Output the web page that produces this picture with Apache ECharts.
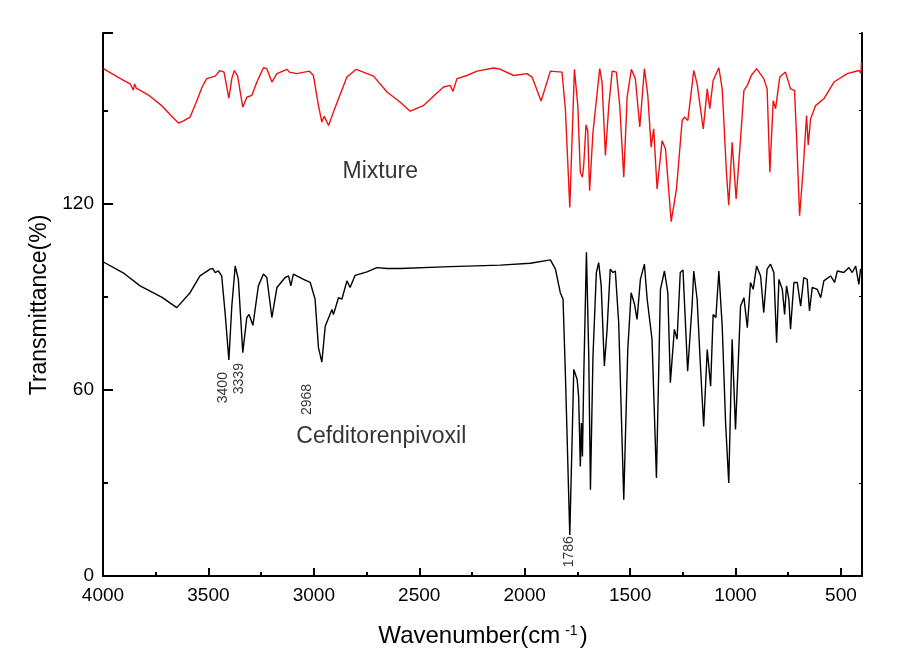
<!DOCTYPE html>
<html><head><meta charset="utf-8">
<script src="https://cdn.jsdelivr.net/npm/echarts@6/dist/echarts.min.js"></script>
<style>html,body{margin:0;padding:0;background:#fff}#c{width:901px;height:663px}</style>
</head><body><div id="c"></div>
<script>
const xTicks = [4000,3500,3000,2500,2000,1500,1000,500];
const yTicks = [0,60,120];
const mixture = [[3998,163.5],[3930,160.8],[3870,158.5],[3856,156.6],[3850,158.6],[3842,157.2],[3780,154.8],[3720,151.5],[3680,148.6],[3642,146.0],[3620,146.6],[3587,147.9],[3560,152.3],[3530,157.6],[3508,160.3],[3468,161.1],[3445,162.9],[3426,162.4],[3403,154.0],[3389,160.3],[3377,162.9],[3362,161.3],[3337,151.1],[3318,154.3],[3294,154.9],[3270,159.2],[3239,163.8],[3223,163.5],[3199,159.2],[3175,161.9],[3128,163.3],[3116,162.4],[3081,161.9],[3021,162.7],[3002,161.3],[2978,151.6],[2962,146.3],[2951,148.2],[2930,145.2],[2907,149.5],[2883,153.8],[2843,160.8],[2799,163.3],[2717,161.1],[2653,156.0],[2590,152.7],[2543,149.8],[2480,151.6],[2385,157.6],[2353,158.1],[2340,156.2],[2321,160.3],[2274,161.3],[2226,162.7],[2147,163.7],[2115,163.3],[2052,161.3],[1989,161.9],[1965,160.8],[1922,153.1],[1878,162.7],[1823,162.4],[1807,150.6],[1786,118.8],[1764,163.3],[1748,151.6],[1736,130.1],[1726,128.5],[1720,132.3],[1709,145.4],[1701,143.6],[1692,124.2],[1676,143.0],[1644,163.5],[1633,159.2],[1617,135.5],[1601,151.6],[1585,162.7],[1565,162.4],[1549,151.6],[1530,128.5],[1514,154.3],[1494,163.3],[1475,160.3],[1454,144.7],[1432,163.5],[1416,154.9],[1400,138.2],[1388,144.1],[1372,124.7],[1348,140.3],[1332,137.6],[1305,114.2],[1280,124.7],[1253,146.8],[1242,147.9],[1226,146.8],[1198,162.9],[1182,158.6],[1153,144.1],[1134,157.0],[1122,150.6],[1106,159.7],[1079,163.8],[1063,157.0],[1043,130.1],[1032,119.5],[1016,139.8],[997,121.5],[976,140.9],[960,156.5],[944,158.1],[925,161.3],[900,163.5],[866,160.3],[850,157.0],[837,130.1],[821,153.2],[810,150.6],[790,160.8],[763,162.4],[739,157.0],[720,156.5],[710,140.9],[696,116.1],[680,130.1],[663,148.4],[655,138.9],[644,147.3],[620,151.6],[581,153.8],[533,159.2],[470,161.9],[415,162.9],[405,162.0],[403,165.4],[400,165.0]];
const cefditoren = [[3998,101.2],[3900,97.5],[3824,93.5],[3720,89.8],[3650,86.5],[3587,91.3],[3540,96.7],[3492,98.9],[3479,99.1],[3468,97.8],[3453,98.3],[3437,96.7],[3421,84.9],[3403,69.6],[3389,87.0],[3373,99.9],[3358,95.6],[3337,72.0],[3318,83.3],[3307,84.3],[3289,80.8],[3263,93.5],[3239,97.3],[3223,96.2],[3199,83.3],[3175,93.0],[3136,96.2],[3120,96.7],[3109,93.5],[3097,97.3],[3049,95.6],[3017,94.6],[2994,89.2],[2978,73.6],[2962,68.9],[2946,80.5],[2914,85.9],[2907,84.3],[2883,89.7],[2867,89.2],[2843,95.1],[2828,93.0],[2804,96.9],[2748,98.0],[2701,99.4],[2653,99.1],[2590,99.1],[2353,99.7],[2115,100.2],[1973,100.8],[1878,101.9],[1854,98.9],[1831,91.3],[1818,89.2],[1807,65.5],[1786,13.2],[1775,43.9],[1767,66.6],[1751,63.3],[1744,57.9],[1736,35.3],[1731,49.3],[1726,38.5],[1720,63.3],[1707,104.3],[1696,70.9],[1688,27.8],[1676,70.9],[1660,97.8],[1649,101.0],[1637,93.5],[1622,67.7],[1609,79.5],[1594,98.9],[1581,97.8],[1570,98.3],[1554,81.6],[1530,24.6],[1511,73.0],[1495,91.3],[1479,87.6],[1467,82.7],[1451,95.6],[1432,100.5],[1419,89.2],[1396,76.3],[1375,31.6],[1356,92.4],[1337,98.3],[1321,91.3],[1309,62.3],[1290,79.5],[1277,76.3],[1262,97.8],[1249,98.6],[1227,66.0],[1206,87.0],[1198,98.3],[1182,89.2],[1167,68.7],[1151,48.2],[1134,73.0],[1118,61.2],[1106,84.3],[1093,83.3],[1079,98.3],[1063,80.5],[1047,49.3],[1032,30.0],[1016,76.3],[1000,47.2],[976,87.0],[960,89.7],[944,80.0],[929,94.6],[916,92.4],[900,99.9],[881,96.7],[866,84.9],[850,98.9],[834,100.5],[818,97.8],[805,75.2],[794,95.6],[778,92.4],[767,84.3],[758,93.5],[747,89.2],[739,79.5],[723,94.6],[707,94.6],[691,87.0],[676,96.2],[660,95.6],[649,85.4],[636,93.0],[612,92.4],[596,89.7],[581,95.1],[549,96.7],[530,94.6],[517,98.3],[486,97.8],[462,99.4],[446,97.8],[430,99.9],[415,94.0],[407,98.9],[400,97.8]];
const peakLabels = [[3430,60.7,'3400'],[3353,63.6,'3339'],[3033,56.9,'2968'],[1788,7.8,'1786']];
const curveLabels = [[2685,130.2,'Mixture'],[2680,44.9,'Cefditorenpivoxil']];

const FONT = '"Liberation Sans", Arial, Helvetica, sans-serif';
const chart = echarts.init(document.getElementById('c'), null, {renderer:'canvas'});
const blackLine = {show:true, lineStyle:{color:'#000', width:2}};
const noSplit = {show:false};
const xBase = {type:'value', inverse:true, min:400, max:4000, splitLine:noSplit};
const yBase = {type:'value', min:0, max:175, splitLine:noSplit};
const plainLabel = {color:'#000', fontFamily:FONT, textBorderWidth:0, textBorderColor:'transparent', textShadowBlur:0};
chart.setOption({
  animation:false,
  backgroundColor:'#fff',
  grid:{left:103, right:39, top:33, bottom:87, containLabel:false},
  xAxis:[
    Object.assign({}, xBase, {position:'bottom', minInterval:250, maxInterval:250, splitNumber:14,
      axisLine:blackLine, axisTick:{show:true, inside:true, length:4, lineStyle:{color:'#000', width:2}},
      axisLabel:{show:false}}),
    Object.assign({}, xBase, {position:'bottom', minInterval:500, maxInterval:500, splitNumber:7,
      axisLine:{show:false}, axisTick:{show:true, inside:true, length:8, lineStyle:{color:'#000', width:2}},
      axisLabel:{show:true, color:'#000', fontSize:19, fontFamily:FONT, margin:10,
        formatter:v => xTicks.indexOf(v) >= 0 ? String(v) : ''}}),
    Object.assign({}, xBase, {position:'top', axisLine:blackLine, axisTick:{show:false}, axisLabel:{show:false}})
  ],
  yAxis:[
    Object.assign({}, yBase, {position:'left', interval:30,
      axisLine:blackLine, axisTick:{show:true, inside:true, length:5, lineStyle:{color:'#000', width:2}},
      axisLabel:{show:false}}),
    Object.assign({}, yBase, {position:'left', interval:60,
      axisLine:{show:false}, axisTick:{show:true, inside:true, length:10, lineStyle:{color:'#000', width:2}},
      axisLabel:{show:true, color:'#000', fontSize:19, fontFamily:FONT, margin:9,
        formatter:v => yTicks.indexOf(v) >= 0 ? String(v) : ''}}),
    Object.assign({}, yBase, {position:'right', interval:30,
      axisLine:blackLine, axisTick:{show:true, inside:true, length:3, lineStyle:{color:'#000', width:1}},
      axisLabel:{show:false}})
  ],
  series:[
    {name:'Mixture', type:'line', xAxisIndex:1, yAxisIndex:1, data:mixture, showSymbol:false,
      lineStyle:{color:'#f01010', width:1.4}, itemStyle:{color:'#f01010'}},
    {name:'Cefditorenpivoxil', type:'line', xAxisIndex:1, yAxisIndex:1, data:cefditoren, showSymbol:false,
      lineStyle:{color:'#000', width:1.4}, itemStyle:{color:'#000'}},
    {type:'scatter', xAxisIndex:1, yAxisIndex:1, symbolSize:0, data:peakLabels, silent:true, itemStyle:{color:'#000'},
      label:Object.assign({show:true, position:'inside', rotate:90, formatter:p => p.data[2], fontSize:14}, plainLabel)},
    {type:'scatter', xAxisIndex:1, yAxisIndex:1, symbolSize:0, data:curveLabels, silent:true, itemStyle:{color:'#000'},
      label:Object.assign({show:true, position:'inside', formatter:p => p.data[2], fontSize:23}, plainLabel)}
  ],
  graphic:[
    {type:'text', x:40, y:305, rotation:Math.PI/2,
      style:{text:'Transmittance(%)', font:'23px ' + FONT, fill:'#000', textAlign:'center', textVerticalAlign:'middle'}},
    {type:'text', x:483, y:636,
      style:{text:'{a|Wavenumber(cm}{s|-1}{a|)}', fill:'#000', textAlign:'center', textVerticalAlign:'middle',
        rich:{a:{fontSize:24, fontFamily:FONT, color:'#000'}, s:{fontSize:14, fontFamily:FONT, color:'#000', verticalAlign:'top', padding:[0,2,10,5]}}}}
  ]
});
</script></body></html>
